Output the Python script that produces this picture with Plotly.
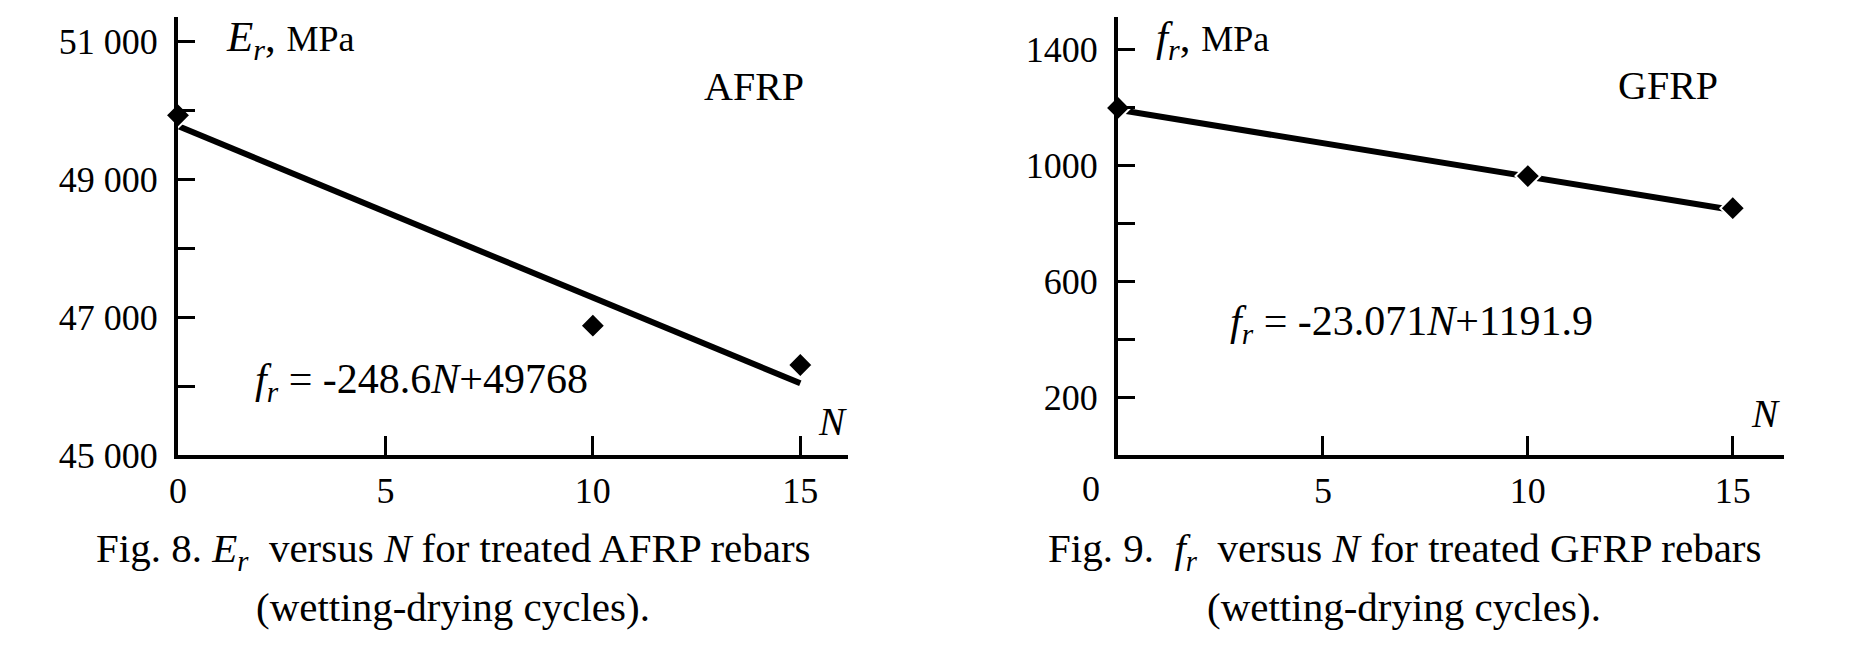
import plotly.graph_objects as go

W, H = 1855, 647
FONT = "Liberation Serif"

# ---- data ----
afrp_N = [0, 10, 15]
afrp_E = [49925, 46875, 46305]
afrp_fit_N = [0, 15]
afrp_fit = [49768, 46039]

gfrp_N = [0, 10, 15]
gfrp_f = [1198, 963, 852]
gfrp_fit_N = [0, 15]
gfrp_fit = [1191.9, 845.8]

left_yticks = [45000, 46000, 47000, 48000, 49000, 50000, 51000]
left_yticktext = ["45 000", "", "47 000", "", "49 000", "", "51 000"]
left_xticks = [0, 5, 10, 15]
left_xticktext = ["0", "5", "10", "15"]

right_yticks = [200, 400, 600, 800, 1000, 1200, 1400]
right_yticktext = ["200", "", "600", "", "1000", "", "1400"]
right_xticks = [0, 5, 10, 15]
right_xticktext = ["", "5", "10", "15"]


def px(x):
    return x / W


def py(y):
    return 1 - y / H


fig = go.Figure()

line_style = dict(color="black", width=6)
marker_style = dict(symbol="diamond", size=19, color="black",
                    line=dict(color="white", width=2))

fig.add_trace(go.Scatter(x=afrp_fit_N, y=afrp_fit, mode="lines", line=line_style,
                         xaxis="x", yaxis="y", showlegend=False, hoverinfo="skip"))
fig.add_trace(go.Scatter(x=afrp_N, y=afrp_E, mode="markers", marker=marker_style,
                         xaxis="x", yaxis="y", showlegend=False, cliponaxis=False))
fig.add_trace(go.Scatter(x=gfrp_fit_N, y=gfrp_fit, mode="lines", line=line_style,
                         xaxis="x2", yaxis="y2", showlegend=False, hoverinfo="skip"))
fig.add_trace(go.Scatter(x=gfrp_N, y=gfrp_f, mode="markers", marker=marker_style,
                         xaxis="x2", yaxis="y2", showlegend=False, cliponaxis=False))

tickfont = dict(family=FONT, size=36, color="black")
common_x = dict(showgrid=False, zeroline=False, showline=True, linecolor="black",
                linewidth=4, ticks="inside", ticklen=19, tickwidth=3,
                tickcolor="black", tickfont=tickfont, ticklabelstandoff=1)
common_y = dict(showgrid=False, zeroline=False, showline=True, linecolor="black",
                linewidth=4, ticks="inside", ticklen=17, tickwidth=3,
                tickcolor="black", tickfont=tickfont, ticklabelstandoff=9)

ydom = [py(455), py(17)]

fig.update_layout(
    width=W, height=H, autosize=False,
    margin=dict(l=0, r=0, t=0, b=0, pad=0, autoexpand=False),
    paper_bgcolor="white", plot_bgcolor="white",
    xaxis=dict(common_x, domain=[px(178), px(848)], range=[0, 16.15],
               tickvals=left_xticks, ticktext=left_xticktext, anchor="y"),
    yaxis=dict(common_y, domain=ydom, range=[45000, 51350],
               tickvals=left_yticks, ticktext=left_yticktext, anchor="x"),
    xaxis2=dict(common_x, domain=[px(1118), px(1784)], range=[0, 16.25],
                tickvals=right_xticks, ticktext=right_xticktext, anchor="y2"),
    yaxis2=dict(common_y, domain=ydom, range=[0, 1512],
                tickvals=right_yticks, ticktext=right_yticktext, anchor="x2"),
)

ann = []


def text(x, y, s, size, xanchor="center"):
    ann.append(dict(x=px(x), y=py(y), xref="paper", yref="paper", text=s,
                    showarrow=False, xanchor=xanchor, yanchor="middle",
                    font=dict(family=FONT, size=size, color="black")))


# axis titles
text(224, 40, "<i>E<sub>r</sub></i>, <span style='font-size:36px'>MPa</span>", 43, xanchor="left")
text(1154, 40, "<i>f<sub>r</sub></i>, <span style='font-size:36px'>MPa</span>", 43, xanchor="left")

# material labels
text(754, 86, "AFRP", 40)
text(1668, 85, "GFRP", 40)

# equations
text(253, 382, "<i>f<sub>r</sub></i> = -248.6<i>N</i>+49768", 42, xanchor="left")
text(1228, 324, "<i>f<sub>r</sub></i> = -23.071<i>N</i>+1191.9", 42, xanchor="left")

# N labels
text(832, 421, "<i>N</i>", 39)
text(1765, 413, "<i>N</i>", 39)

# right origin label
text(1091, 489, "0", 36)

# captions
text(453, 551, "Fig. 8. <i>E<sub>r</sub></i>&nbsp; versus <i>N</i> for treated AFRP rebars", 41)
text(453, 607, "(wetting-drying cycles).", 41)
text(1404, 551, "Fig. 9.&nbsp; <i>f<sub>r</sub></i>&nbsp; versus <i>N</i> for treated GFRP rebars", 41)
text(1404, 607, "(wetting-drying cycles).", 41)

fig.update_layout(annotations=ann)

css_fix = (
    "document.documentElement.style.margin='0';"
    "document.body.style.margin='0';"
    "document.body.style.overflow='hidden';"
)

fig.write_html("out.html", config={"responsive": False}, post_script=css_fix)
